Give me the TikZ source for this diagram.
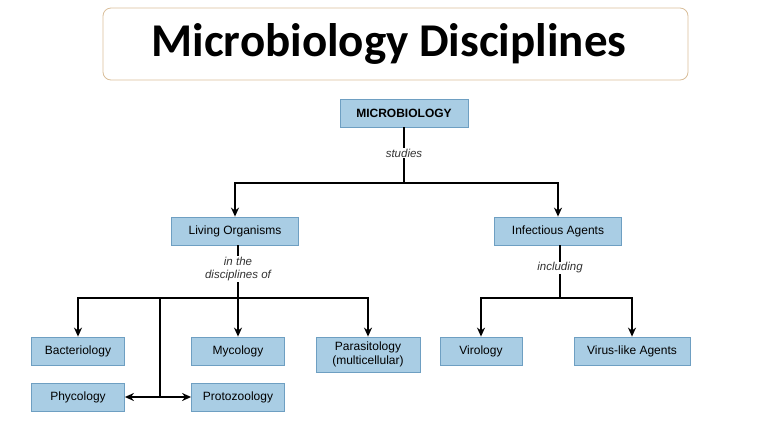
\documentclass[tikz,border=0pt]{standalone}
\usepackage{fontspec}
\setmainfont{Liberation Sans}
\newfontfamily\titlefont{Carlito}
\usetikzlibrary{arrows.meta}
\definecolor{boxfill}{HTML}{A9CDE4}
\definecolor{boxline}{HTML}{6E9FC2}
\definecolor{tan}{HTML}{D9BE9A}
\tikzset{
 bx/.style={draw=boxline,fill=boxfill,line width=0.8pt,minimum height=28pt,align=center,font=\fontsize{12}{13.5}\selectfont,inner sep=2pt},
 conn/.style={line width=1.3pt,-{Stealth[length=9pt,width=8pt]}},
 ln/.style={line width=1.3pt},
 lbl/.style={font=\fontsize{11.5}{13}\selectfont\itshape,fill=white,inner sep=1pt,align=center,text=black!80}
}
\begin{document}
\begin{tikzpicture}[x=1pt,y=-1pt]
\useasboundingbox (0,0) rectangle (768,432);
\node[draw=tan,rounded corners=8pt,line width=0.8pt,minimum width=585pt,minimum height=72pt] (title) at (395.5,44) {};
\node (tt) at (389,44) {\titlefont\bfseries\fontsize{47}{50}\selectfont Microbiology Disciplines};
\node[bx,minimum width=128pt,font=\fontsize{12}{13.5}\selectfont\bfseries] (mic) at (404,113) {MICROBIOLOGY};
\node[bx,minimum width=127pt] (liv) at (235,231) {Living Organisms};
\node[bx,minimum width=127pt] (inf) at (558,231) {Infectious Agents};
\node[bx,minimum width=93pt] (bac) at (78,351) {Bacteriology};
\node[bx,minimum width=93pt] (myc) at (238,351) {Mycology};
\node[bx,minimum width=104pt,minimum height=35pt] (par) at (368,354.5) {Parasitology\\(multicellular)};
\node[bx,minimum width=93pt] (phy) at (78,397) {Phycology};
\node[bx,minimum width=93pt] (pro) at (238,397) {Protozoology};
\node[bx,minimum width=82pt] (vir) at (481,351) {Virology};
\node[bx,minimum width=116pt] (vla) at (632,351) {Virus-like Agents};
\coordinate (j1) at (404,183);
\coordinate (j2) at (238,298);
\coordinate (j3) at (560,298);
\coordinate (j4) at (160,298);
\coordinate (j5) at (160,397);
\draw[ln] (mic) -- (j1);
\node[lbl] (s) at (404,153) {studies};
\draw[conn] (j1) -| (liv.north);
\draw[conn] (j1) -| (inf.north);
\draw[ln] (liv.south -| j2) -- (j2);
\node[lbl] (d) at (238,269) {in the\\disciplines of};
\draw[conn] (j2) -| (bac.north);
\draw[conn] (j2) -- (myc.north);
\draw[conn] (j2) -| (par.north);
\draw[ln] (j4) -- (j5);
\draw[conn] (j5) -- (phy.east);
\draw[conn] (j5) -- (pro.west);
\draw[ln] (inf.south -| j3) -- (j3);
\node[lbl] (i) at (560,268) {including};
\draw[conn] (j3) -| (vir.north);
\draw[conn] (j3) -| (vla.north);
\end{tikzpicture}
\end{document}
